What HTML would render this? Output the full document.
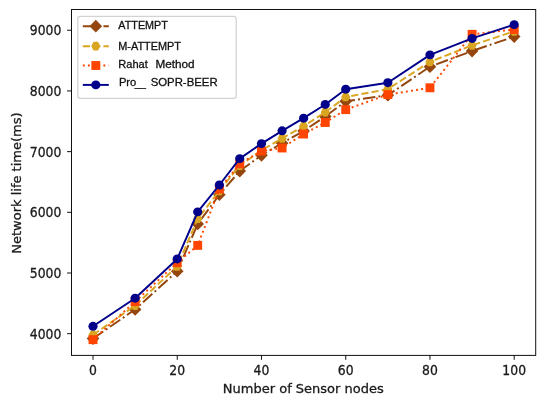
<!DOCTYPE html>
<html><head><meta charset="utf-8"><title>Network life time</title>
<style>html,body{margin:0;padding:0;background:#fff;}svg{display:block;}</style></head>
<body>
<svg width="550" height="400" viewBox="0 0 550 400">
<rect width="550" height="400" fill="#fff"/>
<polyline points="93.00,338.56 135.12,309.42 177.24,271.19 197.70,223.97 219.36,194.72 239.72,171.05 261.48,155.27 282.09,143.13 303.60,131.00 325.26,116.43 345.72,101.26 387.84,95.19 429.96,66.66 472.08,51.01 514.20,36.62" fill="none" stroke="#94460E" stroke-width="1.95" stroke-linejoin="round" stroke-dasharray="12.5 3.1 1.95 3.1"/>
<polygon points="93.00,332.16 99.30,338.56 93.00,344.96 86.70,338.56" fill="#94460E"/>
<polygon points="135.12,303.02 141.42,309.42 135.12,315.82 128.82,309.42" fill="#94460E"/>
<polygon points="177.24,264.79 183.54,271.19 177.24,277.59 170.94,271.19" fill="#94460E"/>
<polygon points="197.70,217.57 204.00,223.97 197.70,230.37 191.40,223.97" fill="#94460E"/>
<polygon points="219.36,188.32 225.66,194.72 219.36,201.12 213.06,194.72" fill="#94460E"/>
<polygon points="239.72,164.65 246.02,171.05 239.72,177.45 233.42,171.05" fill="#94460E"/>
<polygon points="261.48,148.87 267.78,155.27 261.48,161.67 255.18,155.27" fill="#94460E"/>
<polygon points="282.09,136.73 288.39,143.13 282.09,149.53 275.79,143.13" fill="#94460E"/>
<polygon points="303.60,124.60 309.90,131.00 303.60,137.40 297.30,131.00" fill="#94460E"/>
<polygon points="325.26,110.03 331.56,116.43 325.26,122.83 318.96,116.43" fill="#94460E"/>
<polygon points="345.72,94.86 352.02,101.26 345.72,107.66 339.42,101.26" fill="#94460E"/>
<polygon points="387.84,88.79 394.14,95.19 387.84,101.59 381.54,95.19" fill="#94460E"/>
<polygon points="429.96,60.26 436.26,66.66 429.96,73.06 423.66,66.66" fill="#94460E"/>
<polygon points="472.08,44.61 478.38,51.01 472.08,57.41 465.78,51.01" fill="#94460E"/>
<polygon points="514.20,30.22 520.50,36.62 514.20,43.02 507.90,36.62" fill="#94460E"/>
<polyline points="93.00,334.91 135.12,305.60 177.24,266.33 197.70,218.75 219.36,190.78 239.72,165.59 261.48,150.42 282.09,138.40 303.60,126.14 325.26,112.18 345.72,97.01 387.84,89.12 429.96,61.81 472.08,45.30 514.20,31.34" fill="none" stroke="#DAA520" stroke-width="1.95" stroke-linejoin="round" stroke-dasharray="7.2 3.1"/>
<polygon points="88.45,334.91 90.80,330.56 95.20,330.56 97.55,334.91 95.20,339.26 90.80,339.26" fill="#DAA520"/>
<polygon points="130.57,305.60 132.92,301.25 137.32,301.25 139.67,305.60 137.32,309.95 132.92,309.95" fill="#DAA520"/>
<polygon points="172.69,266.33 175.04,261.98 179.44,261.98 181.79,266.33 179.44,270.68 175.04,270.68" fill="#DAA520"/>
<polygon points="193.15,218.75 195.50,214.40 199.90,214.40 202.25,218.75 199.90,223.10 195.50,223.10" fill="#DAA520"/>
<polygon points="214.81,190.78 217.16,186.43 221.56,186.43 223.91,190.78 221.56,195.13 217.16,195.13" fill="#DAA520"/>
<polygon points="235.17,165.59 237.52,161.24 241.92,161.24 244.27,165.59 241.92,169.94 237.52,169.94" fill="#DAA520"/>
<polygon points="256.93,150.42 259.28,146.07 263.68,146.07 266.03,150.42 263.68,154.77 259.28,154.77" fill="#DAA520"/>
<polygon points="277.54,138.40 279.89,134.05 284.29,134.05 286.64,138.40 284.29,142.75 279.89,142.75" fill="#DAA520"/>
<polygon points="299.05,126.14 301.40,121.79 305.80,121.79 308.15,126.14 305.80,130.49 301.40,130.49" fill="#DAA520"/>
<polygon points="320.71,112.18 323.06,107.83 327.46,107.83 329.81,112.18 327.46,116.53 323.06,116.53" fill="#DAA520"/>
<polygon points="341.17,97.01 343.52,92.66 347.92,92.66 350.27,97.01 347.92,101.36 343.52,101.36" fill="#DAA520"/>
<polygon points="383.29,89.12 385.64,84.77 390.04,84.77 392.39,89.12 390.04,93.47 385.64,93.47" fill="#DAA520"/>
<polygon points="425.41,61.81 427.76,57.46 432.16,57.46 434.51,61.81 432.16,66.16 427.76,66.16" fill="#DAA520"/>
<polygon points="467.53,45.30 469.88,40.95 474.28,40.95 476.63,45.30 474.28,49.65 469.88,49.65" fill="#DAA520"/>
<polygon points="509.65,31.34 512.00,26.99 516.40,26.99 518.75,31.34 516.40,35.69 512.00,35.69" fill="#DAA520"/>
<polyline points="93.00,339.65 135.12,301.66 177.24,262.69 197.70,245.40 219.36,188.95 239.72,163.77 261.48,151.02 282.09,147.99 303.60,134.03 325.26,122.50 345.72,109.63 387.84,94.58 429.96,87.78 472.08,34.32 514.20,29.52" fill="none" stroke="#FF4500" stroke-width="1.95" stroke-linejoin="round" stroke-dasharray="1.95 3.2"/>
<rect x="88.55" y="335.20" width="8.90" height="8.90" fill="#FF4500"/>
<rect x="130.67" y="297.21" width="8.90" height="8.90" fill="#FF4500"/>
<rect x="172.79" y="258.24" width="8.90" height="8.90" fill="#FF4500"/>
<rect x="193.25" y="240.95" width="8.90" height="8.90" fill="#FF4500"/>
<rect x="214.91" y="184.50" width="8.90" height="8.90" fill="#FF4500"/>
<rect x="235.27" y="159.32" width="8.90" height="8.90" fill="#FF4500"/>
<rect x="257.03" y="146.57" width="8.90" height="8.90" fill="#FF4500"/>
<rect x="277.64" y="143.54" width="8.90" height="8.90" fill="#FF4500"/>
<rect x="299.15" y="129.58" width="8.90" height="8.90" fill="#FF4500"/>
<rect x="320.81" y="118.05" width="8.90" height="8.90" fill="#FF4500"/>
<rect x="341.27" y="105.18" width="8.90" height="8.90" fill="#FF4500"/>
<rect x="383.39" y="90.13" width="8.90" height="8.90" fill="#FF4500"/>
<rect x="425.51" y="83.33" width="8.90" height="8.90" fill="#FF4500"/>
<rect x="467.63" y="29.87" width="8.90" height="8.90" fill="#FF4500"/>
<rect x="509.75" y="25.07" width="8.90" height="8.90" fill="#FF4500"/>
<polyline points="93.00,326.30 135.12,298.20 177.24,258.93 197.70,211.83 219.36,185.01 239.72,158.67 261.48,143.62 282.09,130.81 303.60,118.19 325.26,104.47 345.72,89.18 387.84,82.69 429.96,54.83 472.08,38.44 514.20,24.67" fill="none" stroke="#00008B" stroke-width="1.95" stroke-linejoin="round"/>
<ellipse cx="93.00" cy="326.30" rx="4.6" ry="4.45" fill="#00008B"/>
<ellipse cx="135.12" cy="298.20" rx="4.6" ry="4.45" fill="#00008B"/>
<ellipse cx="177.24" cy="258.93" rx="4.6" ry="4.45" fill="#00008B"/>
<ellipse cx="197.70" cy="211.83" rx="4.6" ry="4.45" fill="#00008B"/>
<ellipse cx="219.36" cy="185.01" rx="4.6" ry="4.45" fill="#00008B"/>
<ellipse cx="239.72" cy="158.67" rx="4.6" ry="4.45" fill="#00008B"/>
<ellipse cx="261.48" cy="143.62" rx="4.6" ry="4.45" fill="#00008B"/>
<ellipse cx="282.09" cy="130.81" rx="4.6" ry="4.45" fill="#00008B"/>
<ellipse cx="303.60" cy="118.19" rx="4.6" ry="4.45" fill="#00008B"/>
<ellipse cx="325.26" cy="104.47" rx="4.6" ry="4.45" fill="#00008B"/>
<ellipse cx="345.72" cy="89.18" rx="4.6" ry="4.45" fill="#00008B"/>
<ellipse cx="387.84" cy="82.69" rx="4.6" ry="4.45" fill="#00008B"/>
<ellipse cx="429.96" cy="54.83" rx="4.6" ry="4.45" fill="#00008B"/>
<ellipse cx="472.08" cy="38.44" rx="4.6" ry="4.45" fill="#00008B"/>
<ellipse cx="514.20" cy="24.67" rx="4.6" ry="4.45" fill="#00008B"/>
<rect x="71.5" y="9.5" width="464.20000000000005" height="345.9" fill="none" stroke="#111" stroke-width="1"/>
<line x1="93.00" x2="93.00" y1="355.4" y2="359.79999999999995" stroke="#111" stroke-width="1"/>
<text transform="translate(93.00,374.8) scale(0.955,1.035)" text-anchor="middle" font-family="DejaVu Sans, Liberation Sans, sans-serif" font-size="13" fill="#1a1a1a" stroke="#1a1a1a" stroke-width="0.3">0</text>
<line x1="177.24" x2="177.24" y1="355.4" y2="359.79999999999995" stroke="#111" stroke-width="1"/>
<text transform="translate(177.24,374.8) scale(0.955,1.035)" text-anchor="middle" font-family="DejaVu Sans, Liberation Sans, sans-serif" font-size="13" fill="#1a1a1a" stroke="#1a1a1a" stroke-width="0.3">20</text>
<line x1="261.48" x2="261.48" y1="355.4" y2="359.79999999999995" stroke="#111" stroke-width="1"/>
<text transform="translate(261.48,374.8) scale(0.955,1.035)" text-anchor="middle" font-family="DejaVu Sans, Liberation Sans, sans-serif" font-size="13" fill="#1a1a1a" stroke="#1a1a1a" stroke-width="0.3">40</text>
<line x1="345.72" x2="345.72" y1="355.4" y2="359.79999999999995" stroke="#111" stroke-width="1"/>
<text transform="translate(345.72,374.8) scale(0.955,1.035)" text-anchor="middle" font-family="DejaVu Sans, Liberation Sans, sans-serif" font-size="13" fill="#1a1a1a" stroke="#1a1a1a" stroke-width="0.3">60</text>
<line x1="429.96" x2="429.96" y1="355.4" y2="359.79999999999995" stroke="#111" stroke-width="1"/>
<text transform="translate(429.96,374.8) scale(0.955,1.035)" text-anchor="middle" font-family="DejaVu Sans, Liberation Sans, sans-serif" font-size="13" fill="#1a1a1a" stroke="#1a1a1a" stroke-width="0.3">80</text>
<line x1="514.20" x2="514.20" y1="355.4" y2="359.79999999999995" stroke="#111" stroke-width="1"/>
<text transform="translate(514.20,374.8) scale(0.955,1.035)" text-anchor="middle" font-family="DejaVu Sans, Liberation Sans, sans-serif" font-size="13" fill="#1a1a1a" stroke="#1a1a1a" stroke-width="0.3">100</text>
<line x1="67.1" x2="71.5" y1="333.70" y2="333.70" stroke="#111" stroke-width="1"/>
<text transform="translate(61.4,338.60) scale(0.955,1.035)" text-anchor="end" font-family="DejaVu Sans, Liberation Sans, sans-serif" font-size="13" fill="#1a1a1a" stroke="#1a1a1a" stroke-width="0.3">4000</text>
<line x1="67.1" x2="71.5" y1="273.01" y2="273.01" stroke="#111" stroke-width="1"/>
<text transform="translate(61.4,277.91) scale(0.955,1.035)" text-anchor="end" font-family="DejaVu Sans, Liberation Sans, sans-serif" font-size="13" fill="#1a1a1a" stroke="#1a1a1a" stroke-width="0.3">5000</text>
<line x1="67.1" x2="71.5" y1="212.32" y2="212.32" stroke="#111" stroke-width="1"/>
<text transform="translate(61.4,217.22) scale(0.955,1.035)" text-anchor="end" font-family="DejaVu Sans, Liberation Sans, sans-serif" font-size="13" fill="#1a1a1a" stroke="#1a1a1a" stroke-width="0.3">6000</text>
<line x1="67.1" x2="71.5" y1="151.63" y2="151.63" stroke="#111" stroke-width="1"/>
<text transform="translate(61.4,156.53) scale(0.955,1.035)" text-anchor="end" font-family="DejaVu Sans, Liberation Sans, sans-serif" font-size="13" fill="#1a1a1a" stroke="#1a1a1a" stroke-width="0.3">7000</text>
<line x1="67.1" x2="71.5" y1="90.94" y2="90.94" stroke="#111" stroke-width="1"/>
<text transform="translate(61.4,95.84) scale(0.955,1.035)" text-anchor="end" font-family="DejaVu Sans, Liberation Sans, sans-serif" font-size="13" fill="#1a1a1a" stroke="#1a1a1a" stroke-width="0.3">8000</text>
<line x1="67.1" x2="71.5" y1="30.25" y2="30.25" stroke="#111" stroke-width="1"/>
<text transform="translate(61.4,35.15) scale(0.955,1.035)" text-anchor="end" font-family="DejaVu Sans, Liberation Sans, sans-serif" font-size="13" fill="#1a1a1a" stroke="#1a1a1a" stroke-width="0.3">9000</text>
<text x="303.3" y="392.7" text-anchor="middle" font-family="DejaVu Sans, Liberation Sans, sans-serif" font-size="13" fill="#1a1a1a" stroke="#1a1a1a" stroke-width="0.3">Number of Sensor nodes</text>
<text transform="translate(20.6,183.1) rotate(-90)" text-anchor="middle" font-family="DejaVu Sans, Liberation Sans, sans-serif" font-size="13" fill="#1a1a1a" stroke="#1a1a1a" stroke-width="0.3">Network life time(ms)</text>
<rect x="77.8" y="16.3" width="158.4" height="82.1" rx="2.6" ry="2.6" fill="#fff" fill-opacity="0.8" stroke="#d2d2d2" stroke-width="1.25"/>
<line x1="82.8" x2="108.8" y1="26.2" y2="26.2" stroke="#94460E" stroke-width="1.95" stroke-dasharray="12.5 3.1 1.95 3.1"/>
<polygon points="95.80,19.80 102.10,26.20 95.80,32.60 89.50,26.20" fill="#94460E"/>
<text font-family="Liberation Sans, sans-serif" font-size="11.2" fill="#111" stroke="#111" stroke-width="0.3"><tspan x="118.3" y="29.0" textLength="49.6" lengthAdjust="spacingAndGlyphs">ATTEMPT</tspan></text>
<line x1="82.8" x2="108.8" y1="46.2" y2="46.2" stroke="#DAA520" stroke-width="1.95" stroke-dasharray="7.2 3.1"/>
<polygon points="91.25,46.20 93.60,41.85 98.00,41.85 100.35,46.20 98.00,50.55 93.60,50.55" fill="#DAA520"/>
<text font-family="Liberation Sans, sans-serif" font-size="11.2" fill="#111" stroke="#111" stroke-width="0.3"><tspan x="118.3" y="49.8" textLength="62.6" lengthAdjust="spacingAndGlyphs">M-ATTEMPT</tspan></text>
<line x1="82.8" x2="108.8" y1="65.5" y2="65.5" stroke="#FF4500" stroke-width="1.95" stroke-dasharray="1.95 3.2"/>
<rect x="91.35" y="61.05" width="8.90" height="8.90" fill="#FF4500"/>
<text font-family="Liberation Sans, sans-serif" font-size="11.2" fill="#111" stroke="#111" stroke-width="0.3"><tspan x="118.3" y="68.3" textLength="29.5" lengthAdjust="spacingAndGlyphs">Rahat</tspan> <tspan x="155.4" y="68.3" textLength="39.2" lengthAdjust="spacingAndGlyphs">Method</tspan></text>
<line x1="82.8" x2="108.8" y1="84.9" y2="84.9" stroke="#00008B" stroke-width="1.95"/>
<ellipse cx="95.80" cy="84.90" rx="4.6" ry="4.45" fill="#00008B"/>
<text font-family="Liberation Sans, sans-serif" font-size="11.2" fill="#111" stroke="#111" stroke-width="0.3"><tspan x="118.9" y="86.0">Pro</tspan> <tspan x="134.7" y="87.3" textLength="11.3" lengthAdjust="spacingAndGlyphs">__</tspan> <tspan x="150.7" y="86.0" textLength="66.9" lengthAdjust="spacingAndGlyphs">SOPR-BEER</tspan></text>
</svg>
</body></html>
